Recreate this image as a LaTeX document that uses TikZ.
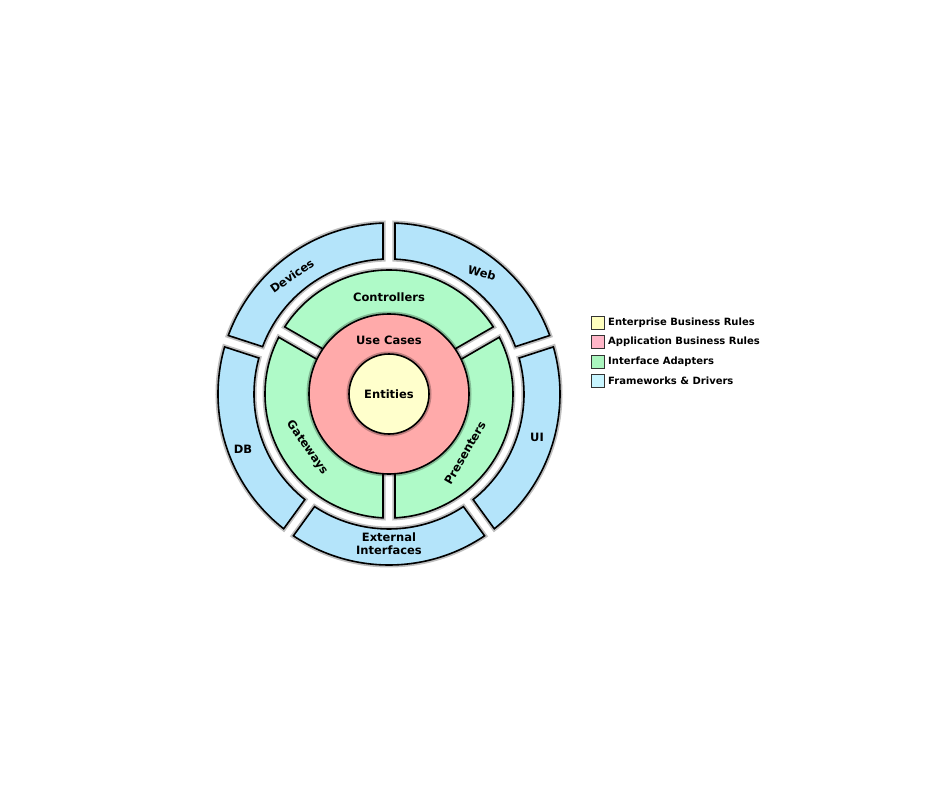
\documentclass[tikz,border=0pt]{standalone}
\usepackage{fontspec}
\setmainfont{DejaVu Sans}
\usepackage{tikz}
\pgfdeclarelayer{nodelayer}
\pgfdeclarelayer{edgelayer}
\pgfsetlayers{edgelayer,main,nodelayer}
\definecolor{entitycol}{RGB}{255,255,204}
\definecolor{usecasecol}{RGB}{255,170,170}
\definecolor{adaptercol}{RGB}{175,250,200}
\definecolor{frameworkcol}{RGB}{180,228,250}
\definecolor{keyyellow}{RGB}{255,255,190}
\definecolor{keypink}{RGB}{255,182,200}
\definecolor{keygreen}{RGB}{170,245,190}
\definecolor{keycyan}{RGB}{200,245,255}
\tikzstyle{part}=[draw=black, line width=1.6pt, preaction={draw=black, opacity=0.25, line width=5pt}]
\tikzstyle{label}=[font=\fontsize{11.5}{13}\selectfont\bfseries, text=black]
\tikzstyle{key box}=[draw=black!80, line width=0.8pt, minimum width=13pt, minimum height=13pt, inner sep=0pt]
\tikzstyle{key text}=[font=\fontsize{10}{12}\selectfont\bfseries, anchor=west, inner sep=0pt]
% ring segment with parallel gaps: style, inner r, outer r, from angle, to angle
\newcommand{\ringpart}[5]{%
  \pgfmathsetmacro{\da}{asin(6/#2)}%
  \pgfmathsetmacro{\db}{asin(6/#3)}%
  \draw [#1] (#4+\da:#2pt) -- (#4+\db:#3pt)
    arc [start angle=#4+\db, end angle=#5-\db, radius=#3pt]
    -- (#5-\da:#2pt)
    arc [start angle=#5-\da, end angle=#4+\da, radius=#2pt] -- cycle;
}

\begin{document}
\begin{tikzpicture}[x=1pt, y=1pt]
	\useasboundingbox (-389, -394) rectangle (551, 394);
	\begin{pgfonlayer}{edgelayer}
		\fill [white] (-389, -394) rectangle (551, 394);
		% frameworks & drivers
		\ringpart{part, fill=frameworkcol}{135}{171}{18}{90}
		\ringpart{part, fill=frameworkcol}{135}{171}{90}{162}
		\ringpart{part, fill=frameworkcol}{135}{171}{162}{234}
		\ringpart{part, fill=frameworkcol}{135}{171}{234}{306}
		\ringpart{part, fill=frameworkcol}{135}{171}{-54}{18}
		% interface adapters
		\ringpart{part, fill=adaptercol}{74}{124}{30}{150}
		\ringpart{part, fill=adaptercol}{74}{124}{150}{270}
		\ringpart{part, fill=adaptercol}{74}{124}{-90}{30}
	\end{pgfonlayer}
	\node [style=part, circle, fill=usecasecol, minimum size=160pt, inner sep=0pt] (usecases) at (0, 0) {};
	\node [style=part, circle, fill=entitycol, minimum size=80pt, inner sep=0pt] (entities) at (0, 0) {};
	\begin{pgfonlayer}{nodelayer}
		\node [style=label] (0) at (0, 0) {Entities};
		\node [style=label] (1) at (0, 54) {Use Cases};
		\node [style=label] (2) at (0, 97) {Controllers};
		\node [style=label, rotate=-55] (3) at (-82, -54) {Gateways};
		\node [style=label, rotate=60] (4) at (76, -59) {Presenters};
		\node [style=label, rotate=-15] (5) at (93, 121) {Web};
		\node [style=label, rotate=35] (6) at (-97, 118) {Devices};
		\node [style=label] (7) at (148, -43) {UI};
		\node [style=label] (8) at (-146, -55) {DB};
		\node [style=label, align=center] (9) at (0, -150) {External\\Interfaces};
		% legend
		\node [style=key box, fill=keyyellow] (10) at (208.5, 71) {};
		\node [style=key box, fill=keypink] (11) at (208.5, 52) {};
		\node [style=key box, fill=keygreen] (12) at (208.5, 32) {};
		\node [style=key box, fill=keycyan] (13) at (208.5, 13) {};
		\node [style=key text] (14) at (219, 71) {Enterprise Business Rules};
		\node [style=key text] (15) at (219, 52) {Application Business Rules};
		\node [style=key text] (16) at (219, 32) {Interface Adapters};
		\node [style=key text] (17) at (219, 13) {Frameworks \& Drivers};
	\end{pgfonlayer}
\end{tikzpicture}
\end{document}
